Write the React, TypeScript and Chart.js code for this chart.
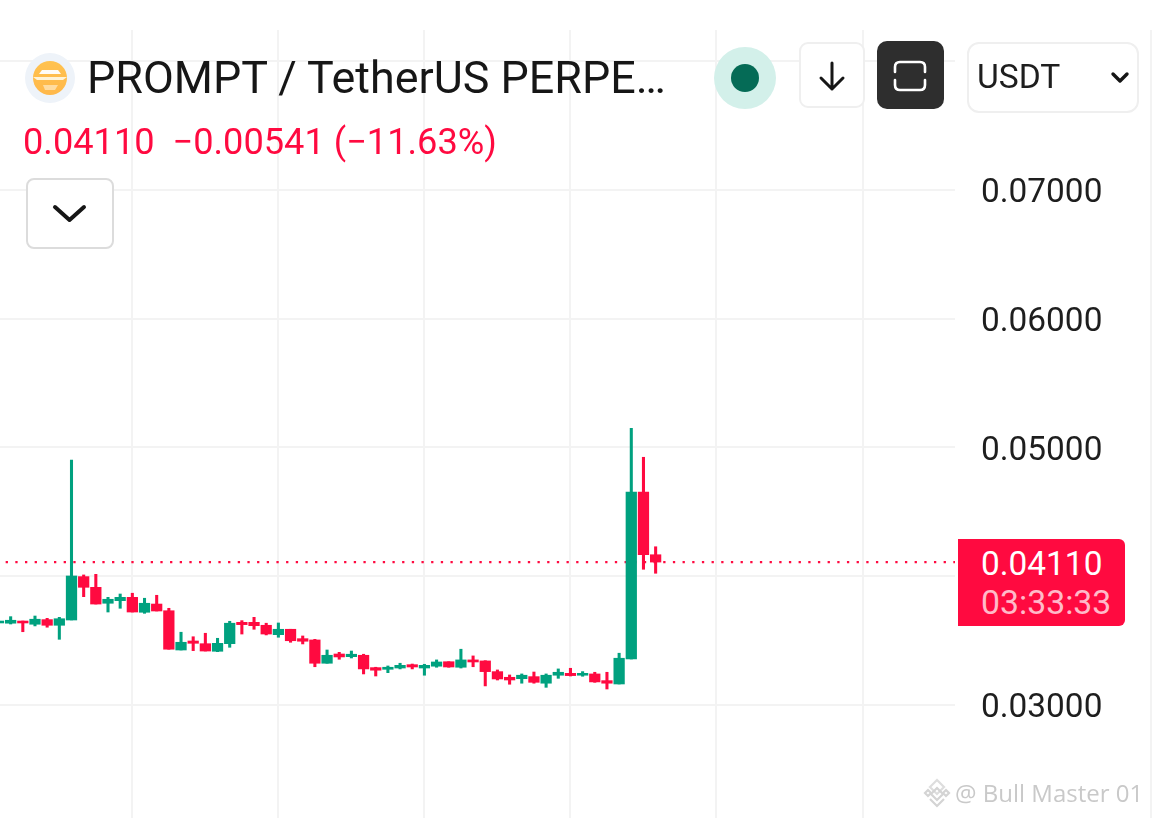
import React, { useEffect, useRef } from "react";
import { Chart, registerables } from "chart.js";

Chart.register(...registerables);

const FONT = "Roboto, sans-serif";
const GREEN = "#00a17f";
const RED = "#ff0a40";
const GRID = "#f3f3f3";

const candleIndex = [-6, -5, -4, -3, -2, -1, 0, 1, 2, 3, 4, 5, 6, 7, 8, 9, 10, 11, 12, 13, 14, 15, 16, 17, 18, 19, 20, 21, 22, 23, 24, 25, 26, 27, 28, 29, 30, 31, 32, 33, 34, 35, 36, 37, 38, 39, 40, 41, 42, 43, 44, 45, 46, 47, 48];

const opens = [0.03637, 0.03635, 0.03652, 0.03627, 0.03663, 0.03619, 0.0366, 0.03997, 0.03914, 0.0379, 0.0381, 0.03836, 0.0372, 0.03784, 0.03732, 0.03427, 0.03497, 0.03476, 0.03417, 0.03476, 0.03642, 0.03642, 0.03619, 0.03546, 0.03588, 0.03515, 0.03505, 0.03324, 0.03396, 0.03375, 0.03386, 0.0329, 0.03277, 0.03287, 0.03313, 0.03287, 0.03301, 0.03336, 0.03293, 0.0335, 0.03342, 0.03259, 0.03215, 0.03204, 0.0322, 0.03169, 0.03231, 0.03246, 0.03231, 0.03241, 0.03189, 0.03163, 0.03357, 0.04654, 0.04167];
const highs = [0.0366, 0.03686, 0.03652, 0.03691, 0.03673, 0.03681, 0.04903, 0.0401, 0.04015, 0.03836, 0.03862, 0.03868, 0.03829, 0.03852, 0.03751, 0.03565, 0.0353, 0.03557, 0.03518, 0.0365, 0.03655, 0.03681, 0.03635, 0.03637, 0.03588, 0.03536, 0.0351, 0.03427, 0.03409, 0.03419, 0.03394, 0.03293, 0.03303, 0.03324, 0.03318, 0.03316, 0.0335, 0.03336, 0.03433, 0.03381, 0.03344, 0.03272, 0.03233, 0.03241, 0.03256, 0.03241, 0.0328, 0.03285, 0.03259, 0.03254, 0.03254, 0.03402, 0.05149, 0.04924, 0.04229];
const lows = [0.03629, 0.03629, 0.03569, 0.03614, 0.03604, 0.0351, 0.0366, 0.03841, 0.03784, 0.03722, 0.03751, 0.03722, 0.03712, 0.0373, 0.03433, 0.03427, 0.03422, 0.03419, 0.03414, 0.03448, 0.03551, 0.03588, 0.03544, 0.03526, 0.03487, 0.03474, 0.03297, 0.03324, 0.03355, 0.03365, 0.03241, 0.03225, 0.03251, 0.0328, 0.0328, 0.03231, 0.03293, 0.03293, 0.03287, 0.03297, 0.03148, 0.03194, 0.03161, 0.03169, 0.03169, 0.03137, 0.03207, 0.03225, 0.03223, 0.03176, 0.03124, 0.03163, 0.03357, 0.04054, 0.04023];
const closes = [0.03652, 0.03658, 0.03637, 0.03666, 0.03619, 0.0367, 0.04002, 0.03914, 0.03784, 0.03821, 0.03836, 0.03722, 0.0379, 0.0373, 0.03433, 0.03487, 0.03479, 0.03419, 0.03479, 0.03635, 0.03624, 0.03616, 0.03551, 0.03588, 0.03499, 0.03495, 0.03324, 0.03386, 0.03373, 0.03394, 0.0328, 0.0327, 0.03293, 0.03308, 0.03295, 0.03308, 0.03334, 0.03295, 0.0335, 0.03334, 0.03259, 0.03202, 0.03194, 0.03231, 0.03176, 0.03231, 0.03254, 0.03228, 0.03246, 0.03179, 0.03169, 0.03363, 0.04654, 0.04167, 0.0411];

const priceTicks = [0.03, 0.04, 0.05, 0.06, 0.07, 0.08];
const hiddenPriceLabels = [0.04, 0.08];
const lastPrice = 0.0411;
const timeGridIndex = [5, 17, 29, 41, 53, 65];

function candleColor(i: number) {
  return closes[i] >= opens[i] ? GREEN : RED;
}

const labelNudge = {
  id: "labelNudge",
  beforeDraw(chart: any) {
    chart.scales.y.getLabelItems().forEach((item: any) => {
      if (!item.nudged) {
        item.options.translation[1] += 4;
        item.nudged = true;
      }
    });
  },
};

function App() {
  const ref = useRef<HTMLCanvasElement>(null);

  useEffect(() => {
    document.body.style.margin = "0";
    document.body.style.background = "#fff";
    const chart = new Chart(ref.current as HTMLCanvasElement, {
      type: "bar",
      plugins: [labelNudge],
      data: {
        datasets: [
          {
            type: "line",
            data: [
              { x: -7, y: lastPrice },
              { x: 72.6, y: lastPrice },
            ],
            borderColor: RED,
            borderWidth: 2.3,
            borderDash: [2.3, 7.37],
            pointRadius: 0,
            order: 3,
          },
          {
            data: candleIndex.map((x, i) => ({ x, y: [lows[i], highs[i]] })),
            backgroundColor: candleIndex.map((_, i) => candleColor(i)),
            barThickness: 2.4,
            grouped: false,
            order: 2,
          },
          {
            data: candleIndex.map((x, i) => ({ x, y: [opens[i], closes[i]] })),
            backgroundColor: candleIndex.map((_, i) => candleColor(i)),
            barThickness: 10.6,
            grouped: false,
            order: 1,
          },
        ] as any,
      },
      options: {
        responsive: false,
        animation: false,
        events: [],
        layout: { padding: { top: 30, left: 0, right: 0, bottom: 0 } },
        plugins: { legend: { display: false }, tooltip: { enabled: false }, title: { display: false } },
        scales: {
          x: {
            type: "linear",
            min: -5.875,
            max: 72.6,
            offset: false,
            afterBuildTicks: (axis: any) => {
              axis.ticks = timeGridIndex.map((value) => ({ value }));
            },
            afterFit: (axis: any) => {
              axis.height = 0;
              axis.paddingLeft = 0;
              axis.paddingRight = 0;
            },
            ticks: { display: false },
            grid: { color: GRID, lineWidth: 2, drawTicks: false, offset: false },
            border: { display: false },
          },
          y: {
            type: "linear",
            position: "right",
            min: 0.02122,
            max: 0.08243,
            afterBuildTicks: (axis: any) => {
              axis.ticks = priceTicks.map((value) => ({ value }));
            },
            afterFit: (axis: any) => {
              axis.width = 197;
              axis.paddingTop = 0;
              axis.paddingBottom = 0;
            },
            ticks: {
              color: "#1e1e1e",
              font: { family: FONT, size: 33.4 },
              padding: 26,
              callback: (v: any) => (hiddenPriceLabels.includes(Number(v)) ? "" : Number(v).toFixed(5)),
            },
            grid: { color: GRID, lineWidth: 2, drawTicks: false },
            border: { display: false },
          },
        },
      },
    } as any);
    return () => chart.destroy();
  }, []);

  const abs = (s: React.CSSProperties): React.CSSProperties => ({ position: "absolute", boxSizing: "border-box", ...s });

  return (
    <div style={{ position: "fixed", left: 0, top: 0, width: 1152, height: 818, overflow: "hidden", background: "#fff", fontFamily: FONT }}>
      <canvas ref={ref} width={1152} height={818} style={{ position: "absolute", left: 0, top: 0, width: 1152, height: 818 }} />

      {/* right edge hairline */}
      <div style={abs({ left: 1150, top: 30, width: 2, height: 788, background: "#f3f3f3" })} />

      {/* symbol logo */}
      <svg style={abs({ left: 25, top: 53 })} width={50} height={50} viewBox="0 0 50 50">
        <defs>
          <linearGradient id="lg" x1="0" y1="0" x2="0" y2="1">
            <stop offset="0" stopColor="#ffc24f" />
            <stop offset="1" stopColor="#ffb84a" />
          </linearGradient>
        </defs>
        <circle cx={25} cy={25} r={25} fill="#eef3f9" />
        <circle cx={25} cy={25} r={17} fill="url(#lg)" />
        <path d="M17 17 L33 17 L36 21 L14 21 Z" fill="#ffffff" opacity={0.95} />
        <path d="M8 24 L42 24 L38 27 L12 27 Z" fill="#fff3d6" />
        <path d="M18 32 L33 32 L30 37 L20 37 Z" fill="#ffdca0" />
      </svg>

      <div style={abs({ left: 87, top: 50, fontSize: 44.85, lineHeight: "56px", color: "#161616", whiteSpace: "nowrap" })}>PROMPT / TetherUS PERPE…</div>
      <div style={abs({ left: 23, top: 120, fontSize: 36.2, lineHeight: "44px", color: RED, whiteSpace: "pre" })}>0.04110  −0.00541 (−11.63%)</div>

      {/* expand button */}
      <div style={abs({ left: 26, top: 178, width: 88, height: 71, border: "2px solid #dcdcdc", borderRadius: 8, background: "#fff" })} />
      <svg style={abs({ left: 50, top: 201 })} width={40} height={26} viewBox="0 0 40 26">
        <path d="M5 6 L19.5 19 L34 6" fill="none" stroke="#161616" strokeWidth={4} strokeLinecap="round" strokeLinejoin="round" />
      </svg>

      {/* status dot */}
      <div style={abs({ left: 714, top: 47, width: 62, height: 62, borderRadius: "50%", background: "#d3f0ea" })} />
      <div style={abs({ left: 731, top: 64, width: 28, height: 28, borderRadius: "50%", background: "#056b56" })} />

      {/* arrow button */}
      <div style={abs({ left: 799, top: 42, width: 66, height: 66, border: "2px solid #efefef", borderRadius: 9, background: "#fff" })} />
      <svg style={abs({ left: 816, top: 60 })} width={32} height={34} viewBox="0 0 32 34">
        <path d="M16 3 V29 M5 18 L16 29 L27 18" fill="none" stroke="#161616" strokeWidth={3} strokeLinecap="round" strokeLinejoin="round" />
      </svg>

      {/* fullscreen button */}
      <div style={abs({ left: 877, top: 41, width: 67, height: 68, borderRadius: 10, background: "#2e2e2e" })} />
      <svg style={abs({ left: 893, top: 60 })} width={34} height={32} viewBox="0 0 34 32">
        <path d="M2 12 V7 Q2 2 7 2 H27 Q32 2 32 7 V12 M2 20 V25 Q2 30 7 30 H27 Q32 30 32 25 V20" fill="none" stroke="#fff" strokeWidth={2.6} strokeLinecap="round" />
      </svg>

      {/* currency select */}
      <div style={abs({ left: 967, top: 42, width: 172, height: 71, border: "2px solid #efefef", borderRadius: 12, background: "#fff" })} />
      <div style={abs({ left: 977, top: 57, fontSize: 33.6, lineHeight: "40px", color: "#1e1e1e" })}>USDT</div>
      <svg style={abs({ left: 1110, top: 71 })} width={20} height={14} viewBox="0 0 20 14">
        <path d="M3 3 L10 10 L17 3" fill="none" stroke="#161616" strokeWidth={3.4} strokeLinecap="round" strokeLinejoin="round" />
      </svg>

      {/* last price tag */}
      <div style={abs({ left: 958, top: 539, width: 167, height: 87, background: RED, borderRadius: "0 6px 6px 0", paddingLeft: 23 })}>
        <div style={{ fontSize: 33.4, lineHeight: "40px", marginTop: 5, color: "#fff" }}>0.04110</div>
        <div style={{ fontSize: 33.8, lineHeight: "38px", color: "rgba(255,255,255,0.72)" }}>03:33:33</div>
      </div>

      {/* watermark */}
      <svg style={abs({ left: 922, top: 778 })} width={30} height={30} viewBox="0 0 30 30">
        <g fill="none" stroke="#d4d4d4" strokeWidth={2.2}>
          <path d="M15 2 L22 9 L15 16 L8 9 Z" opacity={0.8} />
          <path d="M15 10 L21 16 L15 22 L9 16 Z" />
          <path d="M6 12 L9 15 L6 18 L3 15 Z" />
          <path d="M24 12 L27 15 L24 18 L21 15 Z" />
          <path d="M8 21 L15 28 L22 21" />
        </g>
      </svg>
      <div style={abs({ left: 955, top: 778, fontFamily: "'Open Sans', sans-serif", fontSize: 24, lineHeight: "30px", color: "#c9c9c9", whiteSpace: "nowrap" })}>@ Bull Master 01</div>
    </div>
  );
}

export default App;
